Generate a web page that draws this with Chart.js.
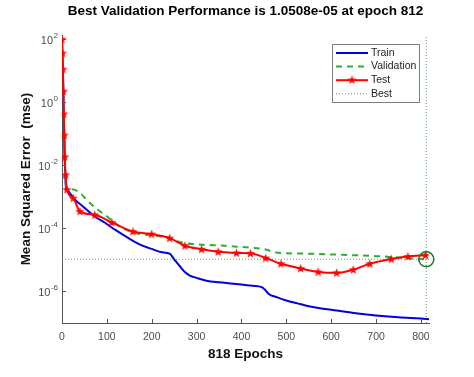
<!DOCTYPE html>
<html>
<head>
<meta charset="utf-8">
<script src="https://cdn.jsdelivr.net/npm/chart.js@4.4.1/dist/chart.umd.min.js"></script>
<style>
  html, body { margin: 0; padding: 0; background: #fff; }
</style>
</head>
<body>
<canvas id="perfChart" width="474" height="377"></canvas>
<script>
// Performance values (mse per epoch)
const trainEpochs = [0, 1, 2, 3, 4, 5, 6, 7, 9, 12, 20, 29, 40, 51, 62, 73, 85, 96, 107, 118, 140, 163, 185, 200, 220, 240, 250, 263, 275, 285, 300, 322, 350, 375, 400, 425, 445, 452, 460, 480, 500, 525, 550, 575, 600, 650, 700, 750, 800, 818];
const trainMse = [100, 31.6, 10, 2.0, 0.40, 0.079, 0.020, 6.3e-3, 1.9e-3, 1.62e-3, 1.17e-3, 8.1e-4, 5.9e-4, 4.4e-4, 3.2e-4, 2.4e-4, 1.86e-4, 1.51e-4, 1.17e-4, 9.1e-5, 5.8e-5, 3.7e-5, 2.63e-5, 2.24e-5, 1.78e-5, 1.58e-5, 1.05e-5, 6.2e-6, 4.0e-6, 3.2e-6, 2.7e-6, 2.2e-6, 1.95e-6, 1.8e-6, 1.66e-6, 1.51e-6, 1.38e-6, 1.15e-6, 8.5e-7, 6.5e-7, 5.2e-7, 4.2e-7, 3.4e-7, 2.95e-7, 2.63e-7, 2.09e-7, 1.74e-7, 1.51e-7, 1.38e-7, 1.32e-7];

const valEpochs = [0, 1, 2, 3, 4, 5, 6, 7, 8, 10, 20, 36, 59, 80, 100, 130, 163, 211, 240, 255, 278, 314, 356, 389, 422, 452, 470, 486, 545, 626, 701, 737, 780, 812, 818];
const valMse = [100, 31.6, 10, 2.0, 0.398, 0.0794, 0.02, 6.31e-3, 2.82e-3, 2.04e-3, 1.78e-3, 1.48e-3, 7.08e-4, 3.89e-4, 2.40e-4, 1.12e-4, 7.08e-5, 5.75e-5, 5.01e-5, 3.98e-5, 3.39e-5, 3.02e-5, 2.88e-5, 2.63e-5, 2.45e-5, 2.19e-5, 1.82e-5, 1.66e-5, 1.58e-5, 1.45e-5, 1.32e-5, 1.23e-5, 1.12e-5, 1.0508e-5, 1.07e-5];

const testEpochs = [0, 1, 2, 3, 4, 5, 6, 8, 11, 25, 40, 73, 111, 158, 200, 240, 274, 311, 348, 389, 420, 454, 488, 532, 571, 612, 649, 686, 734, 771, 810];
const testMse = [100, 36.3, 11.2, 2.24, 0.427, 0.0912, 0.0186, 5.01e-3, 1.7e-3, 9.12e-4, 3.47e-4, 2.69e-4, 1.55e-4, 7.94e-5, 6.61e-5, 4.90e-5, 2.82e-5, 2.19e-5, 1.82e-5, 1.66e-5, 1.62e-5, 1.15e-5, 7.59e-6, 5.37e-6, 4.17e-6, 3.89e-6, 4.90e-6, 7.59e-6, 1.07e-5, 1.29e-5, 1.41e-5];

const bestEpoch = 812;
const bestPerf = 1.0508e-5;
const totalEpochs = 818;

const xTicks = [0, 100, 200, 300, 400, 500, 600, 700, 800];
const yTicks = [1e-6, 1e-4, 1e-2, 1, 100];
const yMin = 1e-7;
const yMax = 134;

const FONT = "'Liberation Sans', Arial, sans-serif";

function toPoints(xs, ys) {
    return xs.map((x, i) => ({ x: x, y: ys[i] }));
}

// filled pentagram marker like MATLAB's 'p'
function makeStar(color) {
    const cv = document.createElement('canvas');
    cv.width = 11; cv.height = 11;
    const g = cv.getContext('2d');
    g.beginPath();
    for (let i = 0; i < 10; i++) {
        const r = i % 2 === 0 ? 4.8 : 2.0;
        const a = -Math.PI / 2 + i * Math.PI / 5;
        const px = 5.5 + r * Math.cos(a), py = 5.8 + r * Math.sin(a);
        if (i === 0) g.moveTo(px, py); else g.lineTo(px, py);
    }
    g.closePath();
    g.fillStyle = color;
    g.fill();
    return cv;
}
const starImg = makeStar('#ff0000');

// inward tick marks and 10^n labels, MATLAB style
const axisDecor = {
    id: 'axisDecor',
    afterDatasetsDraw(chart) {
        const c = chart.ctx, a = chart.chartArea;
        const xs = chart.scales.x, ys = chart.scales.y;
        c.save();
        c.strokeStyle = '#555';
        c.lineWidth = 1;
        c.beginPath();
        xTicks.forEach(v => {
            const px = Math.round(xs.getPixelForValue(v)) + 0.5;
            c.moveTo(px, a.bottom); c.lineTo(px, a.bottom - 4);
        });
        yTicks.forEach(v => {
            const py = Math.round(ys.getPixelForValue(v)) + 0.5;
            c.moveTo(a.left, py); c.lineTo(a.left + 4, py);
        });
        c.stroke();
        c.fillStyle = '#4d4d4d';
        c.textBaseline = 'alphabetic';
        yTicks.forEach(v => {
            const py = ys.getPixelForValue(v);
            const exp = String(Math.round(Math.log10(v)));
            c.font = '8px ' + FONT;
            c.textAlign = 'right';
            const ew = c.measureText(exp).width;
            const right = a.left - 4;
            c.fillText(exp, right, py - 1);
            c.font = '11px ' + FONT;
            c.fillText('10', right - ew - 0.5, py + 5);
        });
        c.restore();
    }
};

// boxed legend in the upper right
const boxLegend = {
    id: 'boxLegend',
    afterDraw(chart) {
        const c = chart.ctx;
        const bx = 332, by = 44, bw = 87, bh = 58;
        c.save();
        c.fillStyle = '#fff';
        c.fillRect(bx, by, bw, bh);
        c.strokeStyle = '#7f7f7f';
        c.lineWidth = 1;
        c.strokeRect(bx + 0.5, by + 0.5, bw, bh);
        const rows = chart.data.datasets.filter(d => d.inLegend);
        rows.sort((p, q) => p.legendRow - q.legendRow);
        c.font = '10.5px ' + FONT;
        c.textBaseline = 'middle';
        rows.forEach((d, i) => {
            const y = by + 9 + i * 13.6;
            c.strokeStyle = d.borderColor;
            c.lineWidth = d.borderWidth;
            c.setLineDash(d.borderDash || []);
            c.beginPath();
            c.moveTo(bx + 4, y); c.lineTo(bx + 36, y);
            c.stroke();
            c.setLineDash([]);
            if (d.legendStar) c.drawImage(starImg, bx + 20 - 5.5, y - 5.8);
            c.fillStyle = '#222';
            c.fillText(d.label, bx + 39, y);
        });
        c.restore();
    }
};

const ctx = document.getElementById('perfChart');
new Chart(ctx, {
    type: 'line',
    data: {
        datasets: [
            {
                label: '_bestCircle',
                data: [{ x: bestEpoch, y: bestPerf }],
                showLine: false,
                clip: false,
                pointStyle: 'circle',
                pointRadius: 7.5,
                pointBorderColor: '#1f6e2a',
                pointBackgroundColor: 'rgba(0,0,0,0)',
                pointBorderWidth: 1.5
            },
            {
                label: 'Test',
                data: toPoints(testEpochs, testMse),
                borderColor: '#ff0000',
                borderWidth: 2,
                pointStyle: starImg,
                pointRadius: 4,
                cubicInterpolationMode: 'monotone',
                inLegend: true, legendRow: 2, legendStar: true
            },
            {
                label: 'Validation',
                data: toPoints(valEpochs, valMse),
                borderColor: '#2db02d',
                borderWidth: 2,
                borderDash: [6, 5],
                pointRadius: 0,
                cubicInterpolationMode: 'monotone',
                inLegend: true, legendRow: 1
            },
            {
                label: 'Train',
                data: toPoints(trainEpochs, trainMse),
                borderColor: '#0000e0',
                borderWidth: 2,
                pointRadius: 0,
                cubicInterpolationMode: 'monotone',
                inLegend: true, legendRow: 0
            },
            {
                label: 'Best',
                data: [{ x: 0, y: bestPerf }, { x: totalEpochs, y: bestPerf }],
                borderColor: '#5a9e5a',
                borderWidth: 1,
                borderDash: [1, 2],
                pointRadius: 0,
                inLegend: true, legendRow: 3
            },
            {
                label: '_bestV',
                data: [{ x: bestEpoch, y: yMin }, { x: bestEpoch, y: yMax }],
                borderColor: '#5a9e5a',
                borderWidth: 1,
                borderDash: [1, 2],
                pointRadius: 0
            }
        ]
    },
    options: {
        responsive: false,
        animation: false,
        events: [],
        layout: { padding: { left: 18, right: 45, top: 3, bottom: 15 } },
        plugins: {
            legend: { display: false },
            tooltip: { enabled: false },
            title: {
                display: true,
                fullSize: false,
                text: 'Best Validation Performance is 1.0508e-05 at epoch 812',
                color: '#000',
                font: { family: FONT, size: 13.5, weight: 'bold' },
                padding: { top: 0, bottom: 16 }
            }
        },
        scales: {
            x: {
                type: 'linear',
                min: 0,
                max: totalEpochs,
                afterBuildTicks: scale => { scale.ticks = xTicks.map(v => ({ value: v })); },
                afterFit: scale => { scale.height = 39; },
                grid: { display: true, drawOnChartArea: false, drawTicks: false },
                border: { display: true, color: '#555' },
                ticks: { color: '#4d4d4d', padding: 8, maxRotation: 0, font: { family: FONT, size: 10.5 } },
                title: {
                    display: true,
                    text: '818 Epochs',
                    color: '#111',
                    font: { family: FONT, size: 13.5, weight: 'bold' },
                    padding: { top: 0, bottom: 0 }
                }
            },
            y: {
                type: 'logarithmic',
                min: yMin,
                max: yMax,
                afterBuildTicks: scale => { scale.ticks = yTicks.map(v => ({ value: v, major: true })); },
                afterFit: scale => { scale.width = 44; },
                grid: { display: true, drawOnChartArea: false, drawTicks: false },
                border: { display: true, color: '#555' },
                ticks: { display: false },
                title: {
                    display: true,
                    text: 'Mean Squared Error  (mse)',
                    color: '#111',
                    font: { family: FONT, size: 13.5, weight: 'bold' },
                    padding: { top: 0, bottom: 0 }
                }
            }
        }
    },
    plugins: [axisDecor, boxLegend]
});
</script>
</body>
</html>
